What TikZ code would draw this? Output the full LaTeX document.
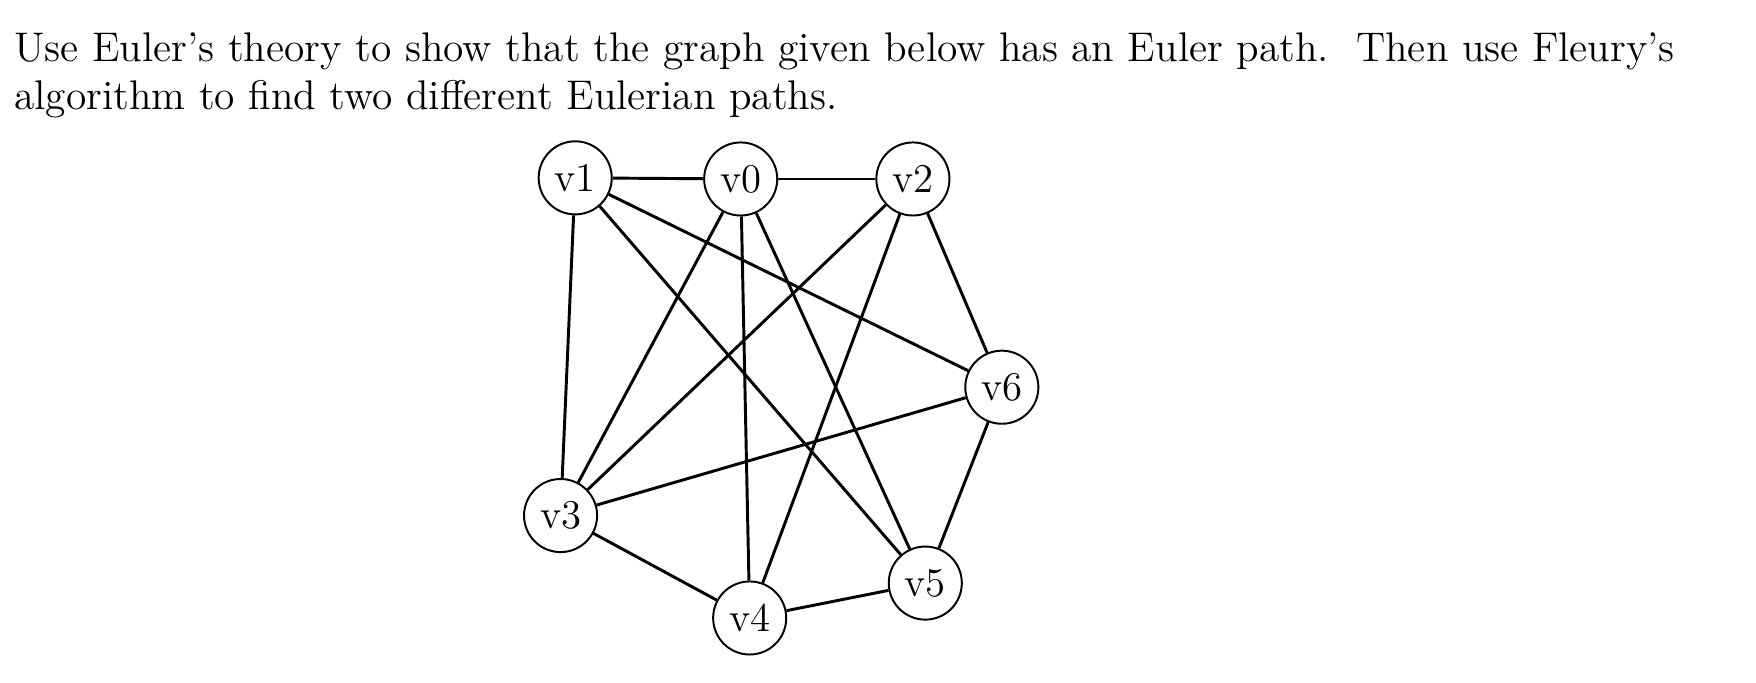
\documentclass[tikz,border=0pt]{standalone}
\begin{document}
\begin{tikzpicture}[x=0.345pt,y=-0.345pt,
  vert/.style={circle,draw,line width=0.6pt,minimum size=22.4pt,inner sep=0pt,font=\fontsize{12.5}{14.5}\selectfont},
  edge/.style={line width=0.9pt}]
\useasboundingbox (0,0) rectangle (1560,606);
\node[anchor=base west,inner sep=0pt,align=left,font=\fontsize{12.7}{14.5}\selectfont] (txt) at (12,97)
  {Use Euler's theory to show that the graph given below has an Euler path.\ \ Then use Fleury's\\algorithm to find two different Eulerian paths.};
\node[vert] (v1) at (511,158) {v1};
\node[vert] (v0) at (658,159) {v0};
\node[vert] (v2) at (811,159) {v2};
\node[vert] (v6) at (890,344) {v6};
\node[vert] (v3) at (498,458) {v3};
\node[vert] (v4) at (666,549) {v4};
\node[vert] (v5) at (822,518) {v5};
\foreach \a/\b in {v1/v0,v0/v2,v1/v3,v1/v6,v1/v5,v0/v3,v0/v4,v0/v5,v2/v3,v2/v4,v2/v6,v6/v3,v6/v5,v3/v4,v4/v5}
  \draw[edge] (\a) -- (\b);
\end{tikzpicture}
\end{document}
